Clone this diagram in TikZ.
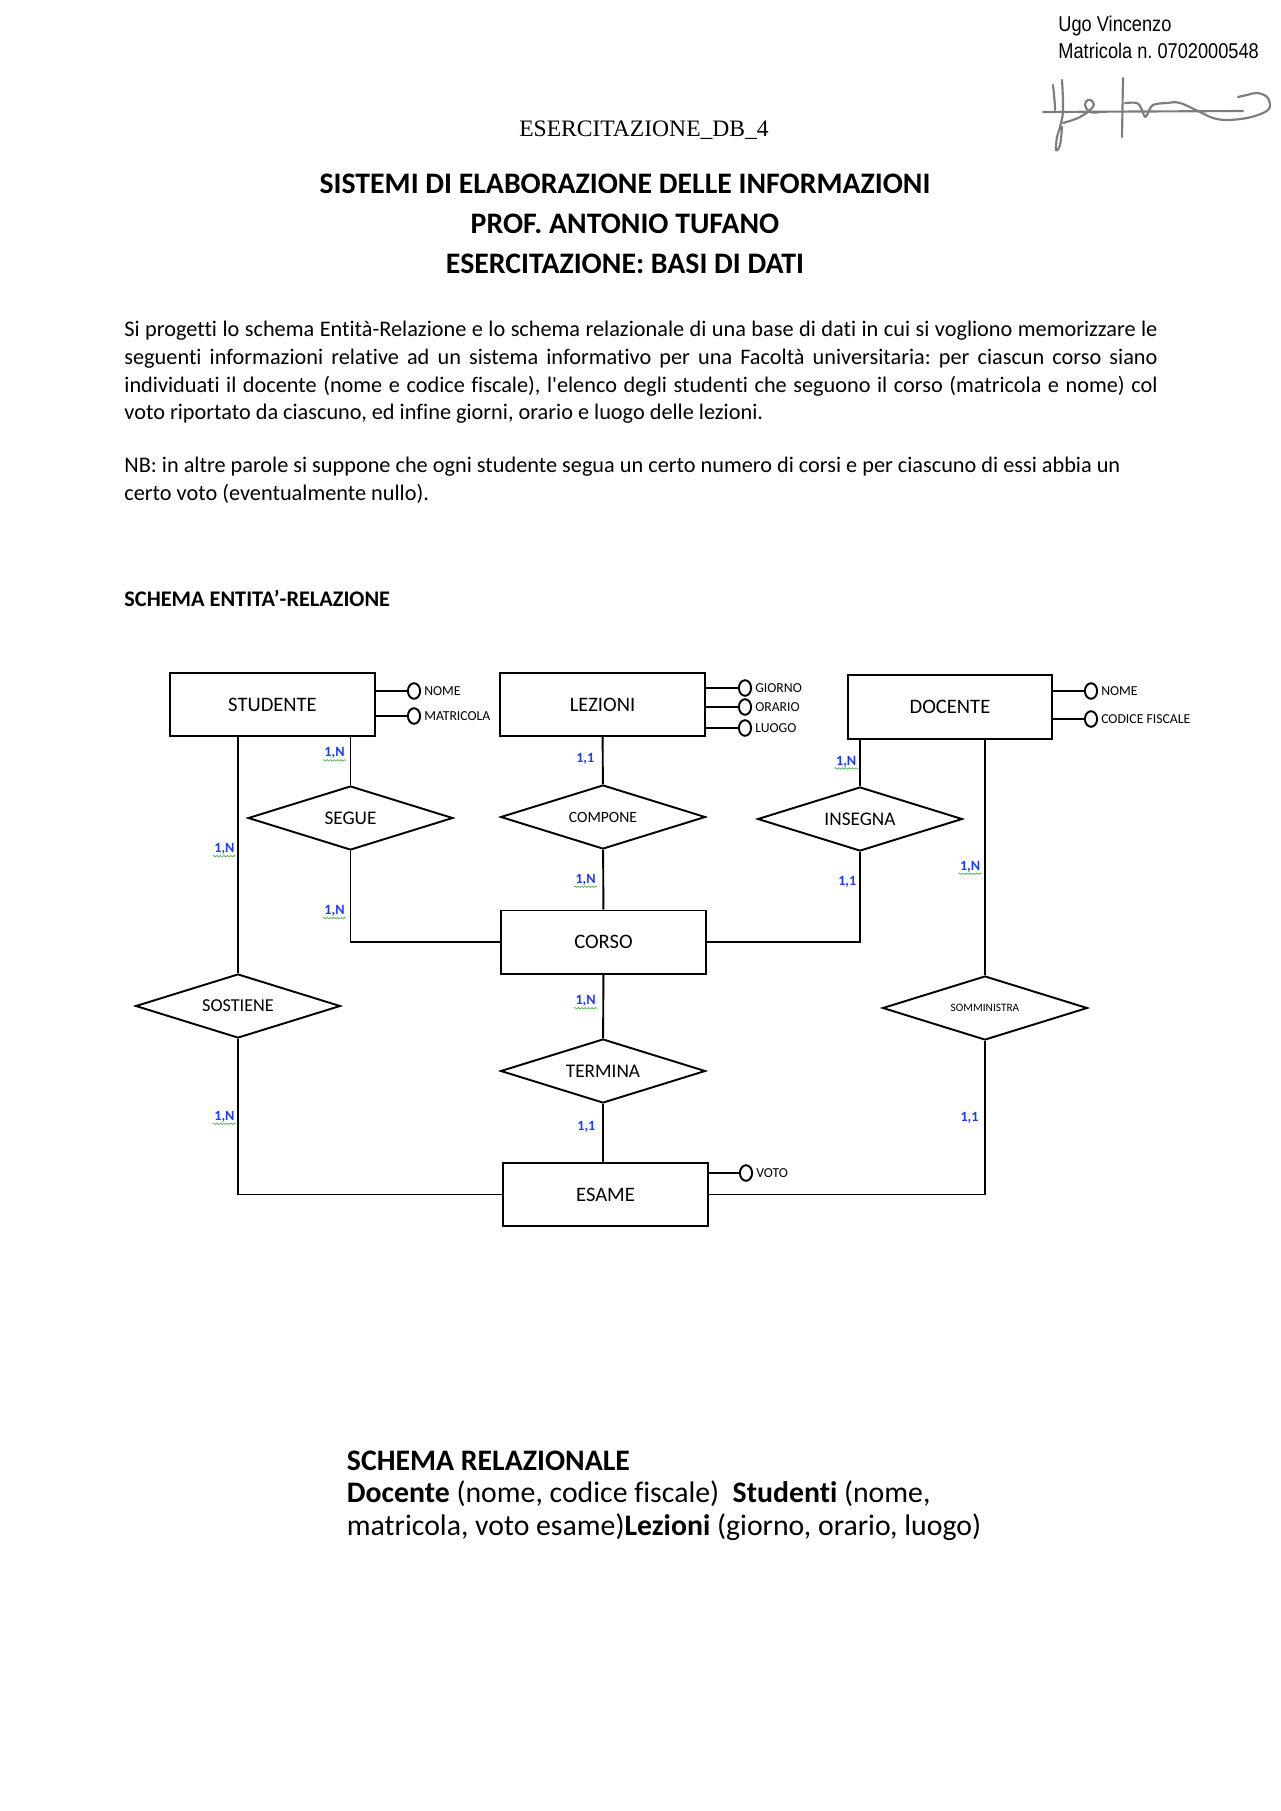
\documentclass[tikz,border=0pt]{standalone}
\usepackage{fontspec}
\setmainfont{Carlito}[Ligatures=NoCommon]
\newfontfamily\plainfont{Carlito}[Ligatures=NoCommon]
\newfontfamily\timesfont{Liberation Serif}
\newfontfamily\narrowfont[FakeStretch=0.85]{Liberation Sans}
\usepackage{tikz}
\usetikzlibrary{positioning}
\usetikzlibrary{shapes.geometric}
\usetikzlibrary{decorations.pathmorphing}
\usepackage{xcolor}
\frenchspacing

\definecolor{cardblue}{RGB}{30,60,245}
\definecolor{spellgreen}{RGB}{70,170,70}
\definecolor{inkgray}{RGB}{125,125,125}

\newlength{\parwidth}
\setlength{\parwidth}{169.5mm}

\tikzset{
  entity/.style={draw, line width=0.9pt, minimum width=33.6mm, minimum height=10.35mm, font=\fontsize{9.6}{11}\selectfont},
  relation/.style={draw, diamond, aspect=3.2, line width=0.9pt, minimum width=33.6mm, minimum height=10.5mm, font=\fontsize{9}{10}\selectfont},
  attrib/.style={draw, ellipse, line width=0.9pt, minimum width=2mm, minimum height=2.55mm},
  attrtext/.style={inner sep=0.3pt, font=\fontsize{6.4}{7}\selectfont},
  card/.style={inner xsep=0.8pt, inner ysep=1.2pt, text=cardblue, font=\fontsize{6.6}{7}\selectfont\bfseries},
  cardN/.style={card, path picture={\draw[spellgreen, line width=0.3pt, decorate, decoration={snake, amplitude=0.35pt, segment length=1.6pt}] ([yshift=0.5pt]path picture bounding box.south west) -- ([yshift=0.5pt]path picture bounding box.south east);}},
  conn/.style={line width=0.9pt},
  elbow/.style={to path={|- (\tikztotarget) \tikztonodes}},
  riga/.style={anchor=base west, font=\fontsize{10.4}{12.9}\selectfont},
  titolo/.style={anchor=base, font=\fontsize{13.9}{17}\selectfont\bfseries},
  schema/.style={anchor=base west, font=\fontsize{13.9}{16}\selectfont},
  sig/.style={draw=inkgray, line width=1pt, line cap=round, line join=round},
}

\begin{document}
\begin{tikzpicture}[x=0.1640625mm, y=-0.1640625mm, every node/.style={inner sep=0pt}]

        \useasboundingbox (0,0) rectangle (1280,1811);

        % intestazione
        \node[anchor=base west, font=\narrowfont\fontsize{10}{12}\selectfont] (autore) at (1058,32) {Ugo Vincenzo};
        \node[anchor=base west, font=\narrowfont\fontsize{10}{12}\selectfont] (matricola) at (1058,59) {Matricola n. 0702000548};

        % firma
        \draw[sig] (1043,112) -- (1243,111);
        \draw[sig] (1053,85) .. controls (1054,95) and (1055,103) .. (1055,110);
        \draw[sig] plot[smooth, tension=0.7] coordinates {(1062,80) (1063,110) (1060,127) (1057,137) (1056,150) (1060,145) (1062,127)};
        \draw[sig] plot[smooth, tension=0.7] coordinates {(1063,123) (1080,117) (1092,108) (1093,102) (1088,100) (1085,105) (1090,112) (1100,112)};
        \draw[sig] (1123,78) -- (1122,137);
        \draw[sig] plot[smooth, tension=0.6] coordinates {(1125,103) (1137,103) (1141,108) (1145,117) (1148,113) (1153,105) (1167,103) (1180,103) (1200,112) (1213,118) (1227,120) (1247,118) (1263,113) (1270,107) (1267,97) (1257,93) (1247,95) (1238,97)};

        \node[anchor=base, font=\timesfont\fontsize{11}{13}\selectfont] (codice) at (644,137) {ESERCITAZIONE\_DB\_4};

        \node[titolo] (titolo1) at (625,194) {SISTEMI DI ELABORAZIONE DELLE INFORMAZIONI};
        \node[titolo] (titolo2) at (625,233.5) {PROF. ANTONIO TUFANO};
        \node[titolo] (titolo3) at (625,273) {ESERCITAZIONE: BASI DI DATI};

        % testo
        \node[riga] (p1) at (124,336) {\makebox[\parwidth][s]{Si progetti lo schema Entità-Relazione e lo schema relazionale di una base di dati in cui si vogliono memorizzare le}};
        \node[riga] (p2) at (124,364) {\makebox[\parwidth][s]{seguenti informazioni relative ad un sistema informativo per una Facoltà universitaria: per ciascun corso siano}};
        \node[riga] (p3) at (124,392) {\makebox[\parwidth][s]{individuati il docente (nome e codice fiscale), l{\plainfont'}elenco degli studenti che seguono il corso (matricola e nome) col}};
        \node[riga] (p4) at (124,419.5) {voto riportato da ciascuno, ed infine giorni, orario e luogo delle lezioni.};
        \node[riga] (nb1) at (124,472.5) {NB: in altre parole si suppone che ogni studente segua un certo numero di corsi e per ciascuno di essi abbia un};
        \node[riga] (nb2) at (124,500.5) {certo voto (eventualmente nullo).};

        \node[riga, font=\fontsize{10.4}{12.9}\selectfont\bfseries] (er) at (124,606.5) {SCHEMA ENTITA’-RELAZIONE};

        % entita
        \node[entity] (studente) at (272.5,704.5) {STUDENTE};
        \node[entity] (lezioni) at (602.5,704.5) {LEZIONI};
        \node[entity] (docente) at (950,707) {DOCENTE};
        \node[entity] (corso) at (603.5,942) {CORSO};
        \node[entity] (esame) at (605.5,1194.5) {ESAME};

        % relazioni
        \node[relation] (segue) at (350.5,818) {SEGUE};
        \node[relation, font=\fontsize{7.3}{9}\selectfont] (compone) at (603,817) {COMPONE};
        \node[relation] (insegna) at (860,819) {INSEGNA};
        \node[relation, font=\fontsize{8.5}{10}\selectfont] (sostiene) at (238,1006) {SOSTIENE};
        \node[relation] (termina) at (603,1071) {TERMINA};
        \node[relation, font=\fontsize{5.3}{6}\selectfont] (somministra) at (985,1008) {SOMMINISTRA};

        % attributi
        \node[attrib] (nomeS) at (414,691) {};
        \node[attrib] (matricolaS) at (414,716) {};
        \node[attrib] (giornoL) at (745,688) {};
        \node[attrib] (orarioL) at (745,707) {};
        \node[attrib] (luogoL) at (745,728) {};
        \node[attrib] (nomeD) at (1091,691) {};
        \node[attrib] (codiceD) at (1091,719) {};
        \node[attrib] (votoE) at (746,1173) {};

        \node[attrtext] (tnomeS) [right=1pt of nomeS] {NOME};
        \node[attrtext] (tmatricolaS) [right=1pt of matricolaS] {MATRICOLA};
        \node[attrtext] (tgiornoL) [right=1pt of giornoL] {GIORNO};
        \node[attrtext] (torarioL) [right=1pt of orarioL] {ORARIO};
        \node[attrtext] (tluogoL) [right=1pt of luogoL] {LUOGO};
        \node[attrtext] (tnomeD) [right=1pt of nomeD] {NOME};
        \node[attrtext] (tcodiceD) [right=1pt of codiceD] {CODICE FISCALE};
        \node[attrtext] (tvotoE) [right=1pt of votoE] {VOTO};

        \path [conn]
          (nomeS) edge (nomeS -| studente.east)
          (matricolaS) edge (matricolaS -| studente.east)
          (giornoL) edge (giornoL -| lezioni.east)
          (orarioL) edge (orarioL -| lezioni.east)
          (luogoL) edge (luogoL -| lezioni.east)
          (nomeD) edge (nomeD -| docente.east)
          (codiceD) edge (codiceD -| docente.east)
          (votoE) edge (votoE -| esame.east);

        \path [conn]
          (segue |- studente.south) edge node[cardN, pos=0.34, left=1.5pt] (c1) {1,N} (segue)
          (sostiene |- studente.south) edge node[cardN, pos=0.475, left=0.4pt] (c2) {1,N} (sostiene)
          (segue) edge [elbow] node[cardN, pos=0.33, left=1.5pt] (c3) {1,N} (corso)
          (lezioni) edge node[card, pos=0.47, left=2.7pt] (c4) {1,1} (compone)
          (compone) edge node[cardN, pos=0.5, left=2.3pt] (c5) {1,N} (corso)
          (insegna |- docente.south) edge node[cardN, pos=0.47, left=0.5pt] (c6) {1,N} (insegna)
          (insegna) edge [elbow] node[card, pos=0.164, left=0.5pt] (c7) {1,1} (corso)
          (somministra |- docente.south) edge node[cardN, pos=0.54, left=1pt] (c8) {1,N} (somministra)
          (corso) edge node[cardN, pos=0.42, left=2.3pt] (c9) {1,N} (termina)
          (termina) edge node[card, pos=0.4, left=2.3pt] (c10) {1,1} (termina |- esame.north)
          (sostiene) edge [elbow] node[cardN, pos=0.25, left=0.4pt] (c11) {1,N} (esame)
          (somministra) edge [elbow] node[card, pos=0.25, left=1.8pt] (c12) {1,1} (esame);

        % schema relazionale
        \node[schema, font=\fontsize{13.9}{16}\selectfont\bfseries] (rel0) at (346.5,1470) {SCHEMA RELAZIONALE};
        \node[schema] (rel1) at (346.5,1502.5) {\textbf{Docente} (nome, codice fiscale)\ \ \textbf{Studenti} (nome,};
        \node[schema] (rel2) at (346.5,1535) {matricola, voto esame)\textbf{Lezioni} (giorno, orario, luogo)};

\end{tikzpicture}
\end{document}
